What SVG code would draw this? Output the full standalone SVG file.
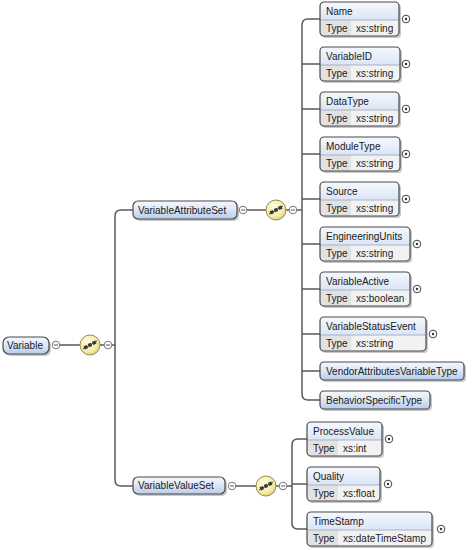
<svg xmlns="http://www.w3.org/2000/svg" width="474" height="550" viewBox="0 0 474 550">
<defs>
<linearGradient id="hdr" x1="0" y1="0" x2="0" y2="1">
<stop offset="0" stop-color="#f6f8fd"/>
<stop offset="0.45" stop-color="#dfe8f7"/>
<stop offset="1" stop-color="#b8ccec"/>
</linearGradient>
<radialGradient id="seq" cx="0.4" cy="0.35" r="0.7">
<stop offset="0" stop-color="#fffde0"/>
<stop offset="0.7" stop-color="#f3eba6"/>
<stop offset="1" stop-color="#d9c97a"/>
</radialGradient>
<g id="seqIcon">
<circle r="10" fill="url(#seq)" stroke="#9a8a4a" stroke-width="1"/>
<path d="M-7,4 L7,-4" stroke="#444" stroke-width="1"/>
<rect x="-6" y="0.5" width="3.5" height="3.5" fill="#3a3a3a" transform="rotate(-20 -4.2 2.2)"/>
<rect x="-1.8" y="-1.8" width="3.5" height="3.5" fill="#3a3a3a" transform="rotate(-20 0 0)"/>
<rect x="2.5" y="-4" width="3.5" height="3.5" fill="#3a3a3a" transform="rotate(-20 4.2 -2.2)"/>
</g>
<g id="minus">
<circle r="3.8" fill="#fff" stroke="#777" stroke-width="1"/>
<path d="M-2,0 H2" stroke="#555" stroke-width="1"/>
</g>
<g id="dot">
<circle r="3.8" fill="#fff" stroke="#444" stroke-width="1"/>
<circle r="1.2" fill="#333"/>
</g>
</defs>
<style>
text{font-family:"Liberation Sans",Arial,sans-serif;font-size:10px;fill:#1a1a1a}
.conn{fill:none;stroke:#5a5a5a;stroke-width:1.5}
.shadow{fill:#9a9a9a;opacity:0.55}
.box{fill:url(#hdr)}
.border{fill:none;stroke:#4a4a4a;stroke-width:1.2}
.trow{fill:#f2f2f2}
.tcell{fill:#e2e2e2}
.sep{stroke:#9aa6b8;stroke-width:0.8}
</style>

<g id="connectors">
<path class="conn" d="M60,345 H80 M100,345 H104 M112,345 H115"/>
<path class="conn" d="M133,210 H121 Q115,210 115,216 V480 Q115,486 121,486 H133"/>
<path class="conn" d="M247,210 H266 M286,210 H289 M297,210 H302"/>
<path class="conn" d="M320,19 H308 Q302,19 302,25 V394 Q302,400 308,400 H320"/>
<path class="conn" d="M302,64 H320 M302,109 H320 M302,154 H320 M302,199 H320 M302,244 H320 M302,289 H320 M302,334 H320 M302,371 H320"/>
<path class="conn" d="M236,486 H256 M276,486 H279 M287,486 H292"/>
<path class="conn" d="M307,439 H298 Q292,439 292,445 V523 Q292,529 298,529 H307 M292,484 H307"/>
</g>

<g id="Variable">
<rect class="shadow" x="5" y="339" width="46" height="17" rx="6"/>
<rect class="box" x="3" y="337" width="46" height="17" rx="6"/>
<rect class="border" x="3" y="337" width="46" height="17" rx="6"/>
<text x="7" y="349">Variable</text>
<use href="#minus" x="56" y="345"/>
</g>
<g id="seq1"><use href="#seqIcon" x="90" y="345"/><use href="#minus" x="108" y="345"/></g>

<g id="VariableAttributeSet">
<rect class="shadow" x="135" y="203" width="104" height="18" rx="5"/>
<rect class="box" x="133" y="201" width="104" height="18" rx="5"/>
<rect class="border" x="133" y="201" width="104" height="18" rx="5"/>
<text x="138" y="214">VariableAttributeSet</text>
<use href="#minus" x="243" y="210"/>
</g>
<g id="seq2"><use href="#seqIcon" x="276" y="210"/><use href="#minus" x="293" y="210"/></g>

<g id="VariableValueSet">
<rect class="shadow" x="135" y="479" width="92" height="17" rx="5"/>
<rect class="box" x="133" y="477" width="92" height="17" rx="5"/>
<rect class="border" x="133" y="477" width="92" height="17" rx="5"/>
<text x="138" y="489">VariableValueSet</text>
<use href="#minus" x="232" y="486"/>
</g>
<g id="seq3"><use href="#seqIcon" x="266" y="486"/><use href="#minus" x="283" y="486"/></g>

<g id="Name">
<rect class="shadow" x="322" y="4" width="79" height="34" rx="4"/>
<rect class="box" x="320" y="2" width="79" height="34" rx="4"/>
<path class="trow" d="M320,20 H399 V32 Q399,36 395,36 H324 Q320,36 320,32 Z"/>
<path class="tcell" d="M320,20 H351 V36 H324 Q320,36 320,32 Z"/>
<path class="sep" d="M320,20 H399"/>
<rect class="border" x="320" y="2" width="79" height="34" rx="4"/>
<text x="326" y="15">Name</text><text x="326" y="32">Type</text><text x="356" y="32">xs:string</text>
<use href="#dot" x="406" y="19"/>
</g>

<g id="VariableID">
<rect class="shadow" x="322" y="49" width="80" height="34" rx="4"/>
<rect class="box" x="320" y="47" width="80" height="34" rx="4"/>
<path class="trow" d="M320,65 H400 V77 Q400,81 396,81 H324 Q320,81 320,77 Z"/>
<path class="tcell" d="M320,65 H351 V81 H324 Q320,81 320,77 Z"/>
<path class="sep" d="M320,65 H400"/>
<rect class="border" x="320" y="47" width="80" height="34" rx="4"/>
<text x="326" y="60">VariableID</text><text x="326" y="77">Type</text><text x="356" y="77">xs:string</text>
<use href="#dot" x="406" y="64"/>
</g>

<g id="DataType">
<rect class="shadow" x="322" y="94" width="79" height="34" rx="4"/>
<rect class="box" x="320" y="92" width="79" height="34" rx="4"/>
<path class="trow" d="M320,110 H399 V122 Q399,126 395,126 H324 Q320,126 320,122 Z"/>
<path class="tcell" d="M320,110 H351 V126 H324 Q320,126 320,122 Z"/>
<path class="sep" d="M320,110 H399"/>
<rect class="border" x="320" y="92" width="79" height="34" rx="4"/>
<text x="326" y="105">DataType</text><text x="326" y="122">Type</text><text x="356" y="122">xs:string</text>
<use href="#dot" x="406" y="109"/>
</g>

<g id="ModuleType">
<rect class="shadow" x="322" y="139" width="80" height="34" rx="4"/>
<rect class="box" x="320" y="137" width="80" height="34" rx="4"/>
<path class="trow" d="M320,155 H400 V167 Q400,171 396,171 H324 Q320,171 320,167 Z"/>
<path class="tcell" d="M320,155 H351 V171 H324 Q320,171 320,167 Z"/>
<path class="sep" d="M320,155 H400"/>
<rect class="border" x="320" y="137" width="80" height="34" rx="4"/>
<text x="326" y="150">ModuleType</text><text x="326" y="167">Type</text><text x="356" y="167">xs:string</text>
<use href="#dot" x="406" y="154"/>
</g>

<g id="Source">
<rect class="shadow" x="322" y="184" width="79" height="34" rx="4"/>
<rect class="box" x="320" y="182" width="79" height="34" rx="4"/>
<path class="trow" d="M320,200 H399 V212 Q399,216 395,216 H324 Q320,216 320,212 Z"/>
<path class="tcell" d="M320,200 H351 V216 H324 Q320,216 320,212 Z"/>
<path class="sep" d="M320,200 H399"/>
<rect class="border" x="320" y="182" width="79" height="34" rx="4"/>
<text x="326" y="195">Source</text><text x="326" y="212">Type</text><text x="356" y="212">xs:string</text>
<use href="#dot" x="406" y="199"/>
</g>

<g id="EngineeringUnits">
<rect class="shadow" x="322" y="229" width="90" height="34" rx="4"/>
<rect class="box" x="320" y="227" width="90" height="34" rx="4"/>
<path class="trow" d="M320,245 H410 V257 Q410,261 406,261 H324 Q320,261 320,257 Z"/>
<path class="tcell" d="M320,245 H351 V261 H324 Q320,261 320,257 Z"/>
<path class="sep" d="M320,245 H410"/>
<rect class="border" x="320" y="227" width="90" height="34" rx="4"/>
<text x="326" y="240">EngineeringUnits</text><text x="326" y="257">Type</text><text x="356" y="257">xs:string</text>
<use href="#dot" x="417" y="244"/>
</g>

<g id="VariableActive">
<rect class="shadow" x="322" y="274" width="90" height="34" rx="4"/>
<rect class="box" x="320" y="272" width="90" height="34" rx="4"/>
<path class="trow" d="M320,290 H410 V302 Q410,306 406,306 H324 Q320,306 320,302 Z"/>
<path class="tcell" d="M320,290 H351 V306 H324 Q320,306 320,302 Z"/>
<path class="sep" d="M320,290 H410"/>
<rect class="border" x="320" y="272" width="90" height="34" rx="4"/>
<text x="326" y="285">VariableActive</text><text x="326" y="302">Type</text><text x="356" y="302">xs:boolean</text>
<use href="#dot" x="417" y="289"/>
</g>

<g id="VariableStatusEvent">
<rect class="shadow" x="322" y="319" width="106" height="34" rx="4"/>
<rect class="box" x="320" y="317" width="106" height="34" rx="4"/>
<path class="trow" d="M320,335 H426 V347 Q426,351 422,351 H324 Q320,351 320,347 Z"/>
<path class="tcell" d="M320,335 H351 V351 H324 Q320,351 320,347 Z"/>
<path class="sep" d="M320,335 H426"/>
<rect class="border" x="320" y="317" width="106" height="34" rx="4"/>
<text x="326" y="330">VariableStatusEvent</text><text x="326" y="347">Type</text><text x="356" y="347">xs:string</text>
<use href="#dot" x="433" y="334"/>
</g>

<g id="VendorAttributesVariableType">
<rect class="shadow" x="322" y="364" width="144" height="18" rx="4"/>
<rect class="box" x="320" y="362" width="144" height="18" rx="4"/>
<rect class="border" x="320" y="362" width="144" height="18" rx="4"/>
<text x="326" y="375">VendorAttributesVariableType</text>
</g>

<g id="BehaviorSpecificType">
<rect class="shadow" x="322" y="393" width="110" height="18" rx="4"/>
<rect class="box" x="320" y="391" width="110" height="18" rx="4"/>
<rect class="border" x="320" y="391" width="110" height="18" rx="4"/>
<text x="326" y="404">BehaviorSpecificType</text>
</g>

<g id="ProcessValue">
<rect class="shadow" x="309" y="424" width="75" height="34" rx="4"/>
<rect class="box" x="307" y="422" width="75" height="34" rx="4"/>
<path class="trow" d="M307,440 H382 V452 Q382,456 378,456 H311 Q307,456 307,452 Z"/>
<path class="tcell" d="M307,440 H338 V456 H311 Q307,456 307,452 Z"/>
<path class="sep" d="M307,440 H382"/>
<rect class="border" x="307" y="422" width="75" height="34" rx="4"/>
<text x="313" y="435">ProcessValue</text><text x="313" y="452">Type</text><text x="343" y="452">xs:int</text>
<use href="#dot" x="389" y="439"/>
</g>

<g id="Quality">
<rect class="shadow" x="309" y="469" width="73" height="34" rx="4"/>
<rect class="box" x="307" y="467" width="73" height="34" rx="4"/>
<path class="trow" d="M307,485 H380 V497 Q380,501 376,501 H311 Q307,501 307,497 Z"/>
<path class="tcell" d="M307,485 H338 V501 H311 Q307,501 307,497 Z"/>
<path class="sep" d="M307,485 H380"/>
<rect class="border" x="307" y="467" width="73" height="34" rx="4"/>
<text x="313" y="480">Quality</text><text x="313" y="497">Type</text><text x="343" y="497">xs:float</text>
<use href="#dot" x="388" y="484"/>
</g>

<g id="TimeStamp">
<rect class="shadow" x="309" y="514" width="125" height="34" rx="4"/>
<rect class="box" x="307" y="512" width="125" height="34" rx="4"/>
<path class="trow" d="M307,530 H432 V542 Q432,546 428,546 H311 Q307,546 307,542 Z"/>
<path class="tcell" d="M307,530 H338 V546 H311 Q307,546 307,542 Z"/>
<path class="sep" d="M307,530 H432"/>
<rect class="border" x="307" y="512" width="125" height="34" rx="4"/>
<text x="313" y="525">TimeStamp</text><text x="313" y="542">Type</text><text x="343" y="542">xs:dateTimeStamp</text>
<use href="#dot" x="441" y="529"/>
</g>
</svg>
